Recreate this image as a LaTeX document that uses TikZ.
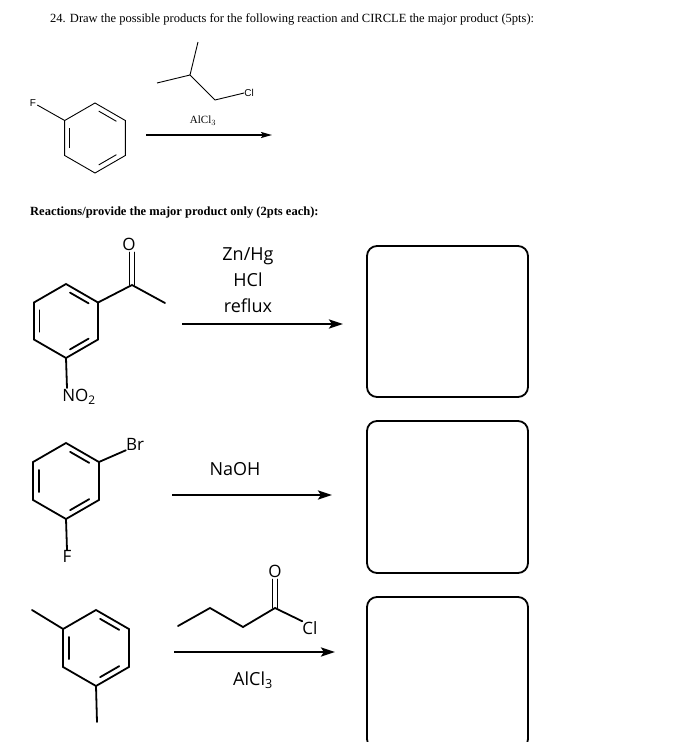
\documentclass[tikz,border=0pt]{standalone}
\usepackage{fontspec}
\setmainfont{Liberation Serif}
\newfontfamily\osans{Open Sans}
\newfontfamily\asans{Liberation Sans}
\usetikzlibrary{arrows.meta,calc}
\tikzset{
 bond/.style={line width=1.8pt, line cap=round},
 thinbond/.style={line width=0.9pt},
 rxn/.style={line width=2.6pt, -{Stealth[length=14pt,width=9pt,inset=3pt]}},
 rxnthin/.style={line width=1.6pt, -{Stealth[length=11pt,width=6pt,inset=2pt]}},
 lab/.style={font=\osans\fontsize{17}{17}\selectfont, inner sep=0pt},
 reag/.style={font=\osans\fontsize{18}{26}\selectfont, inner sep=0pt, align=center},
 smalllab/.style={font=\asans\fontsize{10}{10}\selectfont, inner sep=0pt},
 box/.style={draw, line width=1.8pt, rounded corners=10pt},
}
\newcommand{\myring}[5]{%
 \foreach \a/\n in {90/t,30/ur,-30/lr,-90/b,-150/ll,150/ul}{\coordinate (#1\n) at ($(#2,#3)+(\a:#4 and -#4)$);}
 \draw[#5] (#1t)--(#1ur)--(#1lr)--(#1b)--(#1ll)--(#1ul)--cycle;
 \coordinate (#1c) at (#2,#3);
 \draw[#5] ($(#1t)!0.15!(#1ur)!0.17!(#1c)$)--($(#1ur)!0.15!(#1t)!0.17!(#1c)$);
 \draw[#5] ($(#1ll)!0.15!(#1ul)!0.17!(#1c)$)--($(#1ul)!0.15!(#1ll)!0.17!(#1c)$);
 \draw[#5] ($(#1lr)!0.15!(#1b)!0.17!(#1c)$)--($(#1b)!0.15!(#1lr)!0.17!(#1c)$);
}
\begin{document}
\begin{tikzpicture}[x=1pt,y=-1pt]
\useasboundingbox (0,0) rectangle (690,742);
\node[anchor=west, font=\fontsize{12.5}{12.5}\selectfont, inner sep=0pt] (title) at (50,19) {24. Draw the possible products for the following reaction and CIRCLE the major product (5pts):};
\node[anchor=west, font=\bfseries\fontsize{12.5}{12.5}\selectfont, inner sep=0pt] (sub) at (30,213) {Reactions/provide the major product only (2pts each):};

% top reaction
\myring{A}{95}{138}{35}{thinbond}
\node[smalllab] (AF) at (33,103) {F};
\draw[thinbond] ($(AF.east)+(1,2)$) -- (Aul);
\coordinate (i1) at (198,42); \coordinate (i2) at (190,75); \coordinate (i3) at (157,83); \coordinate (i4) at (215,100);
\node[smalllab] (iCl) at (249,93) {Cl};
\draw[thinbond] (i1)--(i2)--(i3) (i2)--(i4)--(iCl.west);
\node[font=\fontsize{11}{11}\selectfont, inner sep=0pt] (al1) at (203,121) {AlCl$_3$};
\coordinate (r0a) at (146,135); \coordinate (r0b) at (272,135);
\draw[rxnthin] (r0a)--(r0b);

% reaction 1
\myring{B}{66}{321}{37}{bond}
\coordinate (Bc1) at (132,285); \coordinate (Bme) at (165,303);
\node[lab] (BO) at (129,244) {O};
\node[lab, anchor=north] (BN) at (79,389) {NO\textsubscript{2}};
\draw[bond] (Bur)--(Bc1)--(Bme);
\draw[bond] ($(Bc1)+(-2.5,0)$)--($(BO.south)+(0.5,2)$) ($(Bc1)+(2.5,0)$)--($(BO.south)+(5.5,2)$);
\draw[bond] (Bb)--(67,388);
\node[reag] (r1t) at (248,280) {Zn/Hg\\HCl\\reflux};
\coordinate (r1a) at (182,324); \coordinate (r1b) at (343,324);
\draw[rxn] (r1a)--(r1b);
\node[box, minimum width=161pt, minimum height=151pt] (box1) at (447.5,321.5) {};

% reaction 2
\myring{C}{66}{481}{38}{bond}
\node[lab] (CBr) at (135,444) {Br};
\node[lab] (CF) at (67,556) {F};
\draw[bond] (Cur)--(CBr.south west);
\draw[bond] (Cb)--(CF.north);
\node[reag] (r2t) at (235,469) {NaOH};
\coordinate (r2a) at (172,495); \coordinate (r2b) at (332,495);
\draw[rxn] (r2a)--(r2b);
\node[box, minimum width=161pt, minimum height=152pt] (box2) at (447.5,497) {};

% reaction 3
\myring{D}{96}{648}{38}{bond}
\coordinate (Dm1) at (32,610); \coordinate (Dm2) at (97,722);
\draw[bond] (Dul)--(Dm1) (Db)--(Dm2);
\coordinate (e1) at (178,626); \coordinate (e2) at (210,608); \coordinate (e3) at (243,627); \coordinate (e4) at (275,608);
\node[lab] (eO) at (275,571) {O};
\node[lab] (eCl) at (310,628) {Cl};
\draw[bond] (e1)--(e2)--(e3)--(e4)--(eCl.north west);
\draw[bond] ($(e4)+(-2.5,0)$)--($(eO.south)+(-2.5,2)$) ($(e4)+(2.5,0)$)--($(eO.south)+(2.5,2)$);
\coordinate (r3a) at (174,652); \coordinate (r3b) at (335,652);
\draw[rxn] (r3a)--(r3b);
\node[reag] (r3t) at (253,680) {AlCl\textsubscript{3}};
\node[box, minimum width=161pt, minimum height=152pt] (box3) at (447.5,673) {};
\end{tikzpicture}
\end{document}
